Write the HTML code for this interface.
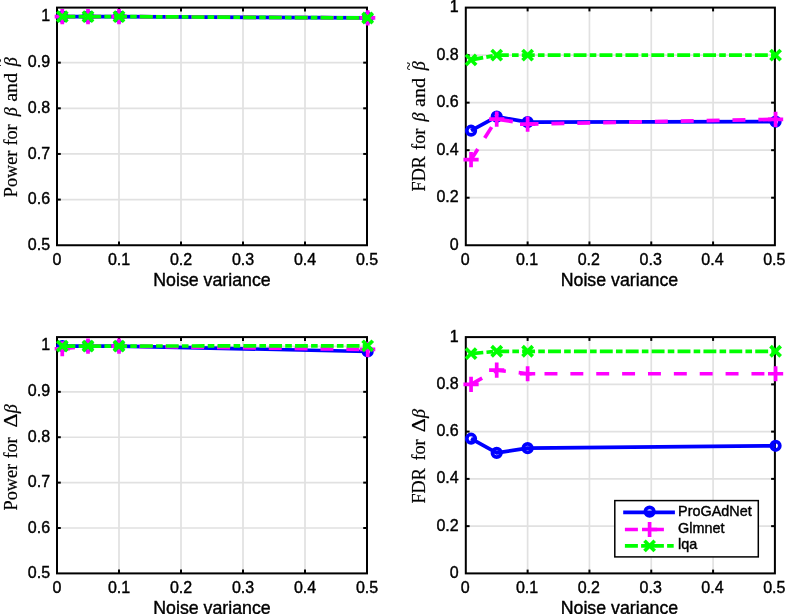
<!DOCTYPE html>
<html lang="en"><head><meta charset="utf-8"><title>Power and FDR vs noise variance</title>
<style>html,body{margin:0;padding:0;background:#fff}svg{display:block}.t{font-family:"Liberation Sans",Arial,Helvetica,sans-serif;fill:#000;stroke:#000;stroke-width:0.4px}.s{font-family:"Liberation Serif","Times New Roman",serif;fill:#000;stroke:#000;stroke-width:0.2px}</style></head><body>
<svg width="785" height="614" viewBox="0 0 785 614">
<rect width="785" height="614" fill="#fff"/>
<g id="ax0">
<line x1="119.00" y1="7.6" x2="119.00" y2="245.25" stroke="#e1e1e1" stroke-width="1.7"/>
<line x1="181.00" y1="7.6" x2="181.00" y2="245.25" stroke="#e1e1e1" stroke-width="1.7"/>
<line x1="243.00" y1="7.6" x2="243.00" y2="245.25" stroke="#e1e1e1" stroke-width="1.7"/>
<line x1="305.00" y1="7.6" x2="305.00" y2="245.25" stroke="#e1e1e1" stroke-width="1.7"/>
<line x1="57.0" y1="199.60" x2="367.0" y2="199.60" stroke="#e1e1e1" stroke-width="1.7"/>
<line x1="57.0" y1="153.95" x2="367.0" y2="153.95" stroke="#e1e1e1" stroke-width="1.7"/>
<line x1="57.0" y1="108.30" x2="367.0" y2="108.30" stroke="#e1e1e1" stroke-width="1.7"/>
<line x1="57.0" y1="62.65" x2="367.0" y2="62.65" stroke="#e1e1e1" stroke-width="1.7"/>
<line x1="57.0" y1="17.00" x2="367.0" y2="17.00" stroke="#e1e1e1" stroke-width="1.7"/>
<line x1="119.00" y1="245.25" x2="119.00" y2="241.45" stroke="#000" stroke-width="2"/>
<line x1="119.00" y1="7.6" x2="119.00" y2="11.399999999999999" stroke="#000" stroke-width="2"/>
<line x1="181.00" y1="245.25" x2="181.00" y2="241.45" stroke="#000" stroke-width="2"/>
<line x1="181.00" y1="7.6" x2="181.00" y2="11.399999999999999" stroke="#000" stroke-width="2"/>
<line x1="243.00" y1="245.25" x2="243.00" y2="241.45" stroke="#000" stroke-width="2"/>
<line x1="243.00" y1="7.6" x2="243.00" y2="11.399999999999999" stroke="#000" stroke-width="2"/>
<line x1="305.00" y1="245.25" x2="305.00" y2="241.45" stroke="#000" stroke-width="2"/>
<line x1="305.00" y1="7.6" x2="305.00" y2="11.399999999999999" stroke="#000" stroke-width="2"/>
<line x1="57.0" y1="199.60" x2="60.8" y2="199.60" stroke="#000" stroke-width="2"/>
<line x1="367.0" y1="199.60" x2="363.2" y2="199.60" stroke="#000" stroke-width="2"/>
<line x1="57.0" y1="153.95" x2="60.8" y2="153.95" stroke="#000" stroke-width="2"/>
<line x1="367.0" y1="153.95" x2="363.2" y2="153.95" stroke="#000" stroke-width="2"/>
<line x1="57.0" y1="108.30" x2="60.8" y2="108.30" stroke="#000" stroke-width="2"/>
<line x1="367.0" y1="108.30" x2="363.2" y2="108.30" stroke="#000" stroke-width="2"/>
<line x1="57.0" y1="62.65" x2="60.8" y2="62.65" stroke="#000" stroke-width="2"/>
<line x1="367.0" y1="62.65" x2="363.2" y2="62.65" stroke="#000" stroke-width="2"/>
<line x1="57.0" y1="17.00" x2="60.8" y2="17.00" stroke="#000" stroke-width="2"/>
<line x1="367.0" y1="17.00" x2="363.2" y2="17.00" stroke="#000" stroke-width="2"/>
<rect x="57.0" y="7.6" width="310.0" height="237.65" fill="none" stroke="#000" stroke-width="2"/>
<polyline points="62.27,16.60 88.00,16.60 119.00,16.60 367.68,17.97" fill="none" stroke="#0000ff" stroke-width="3.7" stroke-linejoin="round"/>
<circle cx="62.27" cy="16.60" r="4.25" fill="none" stroke="#0000ff" stroke-width="3.7"/>
<circle cx="88.00" cy="16.60" r="4.25" fill="none" stroke="#0000ff" stroke-width="3.7"/>
<circle cx="119.00" cy="16.60" r="4.25" fill="none" stroke="#0000ff" stroke-width="3.7"/>
<circle cx="367.68" cy="17.97" r="4.25" fill="none" stroke="#0000ff" stroke-width="3.7"/>
<polyline points="62.27,16.60 88.00,16.60 119.00,16.60 367.68,17.97" fill="none" stroke="#ff00ff" stroke-width="3.7" stroke-dasharray="12.95 12.92" stroke-dashoffset="0.3" stroke-linejoin="round"/>
<path d="M54.67 16.60H69.87M62.27 9.00V24.20" fill="none" stroke="#ff00ff" stroke-width="3.7"/>
<path d="M80.40 16.60H95.60M88.00 9.00V24.20" fill="none" stroke="#ff00ff" stroke-width="3.7"/>
<path d="M111.40 16.60H126.60M119.00 9.00V24.20" fill="none" stroke="#ff00ff" stroke-width="3.7"/>
<path d="M360.08 17.97H375.28M367.68 10.37V25.57" fill="none" stroke="#ff00ff" stroke-width="3.7"/>
<polyline points="62.27,16.60 88.00,16.60 119.00,16.60 367.68,17.97" fill="none" stroke="#00ff00" stroke-width="3.7" stroke-dasharray="12.80 3.2 6.6 3.2" stroke-dashoffset="-0.3" stroke-linejoin="round"/>
<path d="M57.17 11.50L67.37 21.70M57.17 21.70L67.37 11.50" fill="none" stroke="#00ff00" stroke-width="3.7"/>
<path d="M82.90 11.50L93.10 21.70M82.90 21.70L93.10 11.50" fill="none" stroke="#00ff00" stroke-width="3.7"/>
<path d="M113.90 11.50L124.10 21.70M113.90 21.70L124.10 11.50" fill="none" stroke="#00ff00" stroke-width="3.7"/>
<path d="M362.58 12.87L372.78 23.07M362.58 23.07L372.78 12.87" fill="none" stroke="#00ff00" stroke-width="3.7"/>
<text class="t" x="57.00" y="265.15" font-size="16.0" text-anchor="middle">0</text>
<text class="t" x="119.00" y="265.15" font-size="16.0" text-anchor="middle">0.1</text>
<text class="t" x="181.00" y="265.15" font-size="16.0" text-anchor="middle">0.2</text>
<text class="t" x="243.00" y="265.15" font-size="16.0" text-anchor="middle">0.3</text>
<text class="t" x="305.00" y="265.15" font-size="16.0" text-anchor="middle">0.4</text>
<text class="t" x="367.00" y="265.15" font-size="16.0" text-anchor="middle">0.5</text>
<text class="t" x="50.10" y="249.85" font-size="16.0" text-anchor="end">0.5</text>
<text class="t" x="50.10" y="204.20" font-size="16.0" text-anchor="end">0.6</text>
<text class="t" x="50.10" y="158.55" font-size="16.0" text-anchor="end">0.7</text>
<text class="t" x="50.10" y="112.90" font-size="16.0" text-anchor="end">0.8</text>
<text class="t" x="50.10" y="67.25" font-size="16.0" text-anchor="end">0.9</text>
<text class="t" x="50.10" y="20.90" font-size="16.0" text-anchor="end">1</text>
<text class="t" x="212.00" y="285.65" font-size="17.75" text-anchor="middle">Noise variance</text>
<text class="s" id="yl0_0" transform="translate(16.70 197.20) rotate(-90) scale(1 1)" font-size="18.2">Power</text>
<text class="s" id="yl0_1" transform="translate(16.70 145.60) rotate(-90) scale(1 1)" font-size="18.2">for</text>
<text class="s" id="yl0_2" transform="translate(16.70 116.30) rotate(-90) scale(1 1)" font-size="18.2" font-style="italic">β</text>
<text class="s" id="yl0_3" transform="translate(16.70 101.80) rotate(-90) scale(1.1 1)" font-size="18.2">and</text>
<text class="s" id="yl0_4" transform="translate(16.70 66.20) rotate(-90) scale(1 1)" font-size="18.2" font-style="italic">β</text>
<text class="s" id="yl0_5" transform="translate(5.10 66.30) rotate(-90)" font-size="15">~</text>
</g>
<g id="ax1">
<line x1="527.62" y1="7.6" x2="527.62" y2="245.25" stroke="#e1e1e1" stroke-width="1.7"/>
<line x1="589.44" y1="7.6" x2="589.44" y2="245.25" stroke="#e1e1e1" stroke-width="1.7"/>
<line x1="651.26" y1="7.6" x2="651.26" y2="245.25" stroke="#e1e1e1" stroke-width="1.7"/>
<line x1="713.08" y1="7.6" x2="713.08" y2="245.25" stroke="#e1e1e1" stroke-width="1.7"/>
<line x1="465.8" y1="197.72" x2="774.9" y2="197.72" stroke="#e1e1e1" stroke-width="1.7"/>
<line x1="465.8" y1="150.19" x2="774.9" y2="150.19" stroke="#e1e1e1" stroke-width="1.7"/>
<line x1="465.8" y1="102.66" x2="774.9" y2="102.66" stroke="#e1e1e1" stroke-width="1.7"/>
<line x1="465.8" y1="55.13" x2="774.9" y2="55.13" stroke="#e1e1e1" stroke-width="1.7"/>
<line x1="527.62" y1="245.25" x2="527.62" y2="241.45" stroke="#000" stroke-width="2"/>
<line x1="527.62" y1="7.6" x2="527.62" y2="11.399999999999999" stroke="#000" stroke-width="2"/>
<line x1="589.44" y1="245.25" x2="589.44" y2="241.45" stroke="#000" stroke-width="2"/>
<line x1="589.44" y1="7.6" x2="589.44" y2="11.399999999999999" stroke="#000" stroke-width="2"/>
<line x1="651.26" y1="245.25" x2="651.26" y2="241.45" stroke="#000" stroke-width="2"/>
<line x1="651.26" y1="7.6" x2="651.26" y2="11.399999999999999" stroke="#000" stroke-width="2"/>
<line x1="713.08" y1="245.25" x2="713.08" y2="241.45" stroke="#000" stroke-width="2"/>
<line x1="713.08" y1="7.6" x2="713.08" y2="11.399999999999999" stroke="#000" stroke-width="2"/>
<line x1="465.8" y1="197.72" x2="469.6" y2="197.72" stroke="#000" stroke-width="2"/>
<line x1="774.9" y1="197.72" x2="771.1" y2="197.72" stroke="#000" stroke-width="2"/>
<line x1="465.8" y1="150.19" x2="469.6" y2="150.19" stroke="#000" stroke-width="2"/>
<line x1="774.9" y1="150.19" x2="771.1" y2="150.19" stroke="#000" stroke-width="2"/>
<line x1="465.8" y1="102.66" x2="469.6" y2="102.66" stroke="#000" stroke-width="2"/>
<line x1="774.9" y1="102.66" x2="771.1" y2="102.66" stroke="#000" stroke-width="2"/>
<line x1="465.8" y1="55.13" x2="469.6" y2="55.13" stroke="#000" stroke-width="2"/>
<line x1="774.9" y1="55.13" x2="771.1" y2="55.13" stroke="#000" stroke-width="2"/>
<rect x="465.8" y="7.6" width="309.09999999999997" height="237.65" fill="none" stroke="#000" stroke-width="2"/>
<polyline points="471.05,130.70 496.71,116.68 527.62,122.15 775.58,121.67" fill="none" stroke="#0000ff" stroke-width="3.7" stroke-linejoin="round"/>
<circle cx="471.05" cy="130.70" r="4.25" fill="none" stroke="#0000ff" stroke-width="3.7"/>
<circle cx="496.71" cy="116.68" r="4.25" fill="none" stroke="#0000ff" stroke-width="3.7"/>
<circle cx="527.62" cy="122.15" r="4.25" fill="none" stroke="#0000ff" stroke-width="3.7"/>
<circle cx="775.58" cy="121.67" r="4.25" fill="none" stroke="#0000ff" stroke-width="3.7"/>
<polyline points="471.05,159.70 496.71,119.06 527.62,124.05 775.58,119.30" fill="none" stroke="#ff00ff" stroke-width="3.7" stroke-dasharray="12.95 12.92" stroke-dashoffset="0.3" stroke-linejoin="round"/>
<path d="M463.45 159.70H478.65M471.05 152.10V167.30" fill="none" stroke="#ff00ff" stroke-width="3.7"/>
<path d="M489.11 119.06H504.31M496.71 111.46V126.66" fill="none" stroke="#ff00ff" stroke-width="3.7"/>
<path d="M520.02 124.05H535.22M527.62 116.45V131.65" fill="none" stroke="#ff00ff" stroke-width="3.7"/>
<path d="M767.98 119.30H783.18M775.58 111.70V126.90" fill="none" stroke="#ff00ff" stroke-width="3.7"/>
<polyline points="471.05,59.88 496.71,55.13 527.62,55.13 775.58,55.13" fill="none" stroke="#00ff00" stroke-width="3.7" stroke-dasharray="12.90 3.2 6.6 3.2" stroke-dashoffset="0.6" stroke-linejoin="round"/>
<path d="M465.95 54.78L476.15 64.98M465.95 64.98L476.15 54.78" fill="none" stroke="#00ff00" stroke-width="3.7"/>
<path d="M491.61 50.03L501.81 60.23M491.61 60.23L501.81 50.03" fill="none" stroke="#00ff00" stroke-width="3.7"/>
<path d="M522.52 50.03L532.72 60.23M522.52 60.23L532.72 50.03" fill="none" stroke="#00ff00" stroke-width="3.7"/>
<path d="M770.48 50.03L780.68 60.23M770.48 60.23L780.68 50.03" fill="none" stroke="#00ff00" stroke-width="3.7"/>
<text class="t" x="465.20" y="265.15" font-size="16.0" text-anchor="middle">0</text>
<text class="t" x="527.02" y="265.15" font-size="16.0" text-anchor="middle">0.1</text>
<text class="t" x="588.84" y="265.15" font-size="16.0" text-anchor="middle">0.2</text>
<text class="t" x="650.66" y="265.15" font-size="16.0" text-anchor="middle">0.3</text>
<text class="t" x="712.48" y="265.15" font-size="16.0" text-anchor="middle">0.4</text>
<text class="t" x="774.30" y="265.15" font-size="16.0" text-anchor="middle">0.5</text>
<text class="t" x="458.70" y="249.85" font-size="16.0" text-anchor="end">0</text>
<text class="t" x="458.70" y="202.32" font-size="16.0" text-anchor="end">0.2</text>
<text class="t" x="458.70" y="154.79" font-size="16.0" text-anchor="end">0.4</text>
<text class="t" x="458.70" y="107.26" font-size="16.0" text-anchor="end">0.6</text>
<text class="t" x="458.70" y="59.73" font-size="16.0" text-anchor="end">0.8</text>
<text class="t" x="458.70" y="12.20" font-size="16.0" text-anchor="end">1</text>
<text class="t" x="619.45" y="285.65" font-size="17.75" text-anchor="middle">Noise variance</text>
<text class="s" id="yl1_0" transform="translate(425.10 191.40) rotate(-90) scale(1 1)" font-size="18.2">FDR</text>
<text class="s" id="yl1_1" transform="translate(425.10 149.90) rotate(-90) scale(1 1)" font-size="18.2">for</text>
<text class="s" id="yl1_2" transform="translate(425.10 121.40) rotate(-90) scale(1 1)" font-size="18.2" font-style="italic">β</text>
<text class="s" id="yl1_3" transform="translate(425.10 107.00) rotate(-90) scale(1.1 1)" font-size="18.2">and</text>
<text class="s" id="yl1_4" transform="translate(425.10 70.20) rotate(-90) scale(1 1)" font-size="18.2" font-style="italic">β</text>
<text class="s" id="yl1_5" transform="translate(413.50 70.30) rotate(-90)" font-size="15">~</text>
</g>
<g id="ax2">
<line x1="119.00" y1="337.1" x2="119.00" y2="573.4" stroke="#e1e1e1" stroke-width="1.7"/>
<line x1="181.00" y1="337.1" x2="181.00" y2="573.4" stroke="#e1e1e1" stroke-width="1.7"/>
<line x1="243.00" y1="337.1" x2="243.00" y2="573.4" stroke="#e1e1e1" stroke-width="1.7"/>
<line x1="305.00" y1="337.1" x2="305.00" y2="573.4" stroke="#e1e1e1" stroke-width="1.7"/>
<line x1="57.0" y1="528.01" x2="367.0" y2="528.01" stroke="#e1e1e1" stroke-width="1.7"/>
<line x1="57.0" y1="482.62" x2="367.0" y2="482.62" stroke="#e1e1e1" stroke-width="1.7"/>
<line x1="57.0" y1="437.23" x2="367.0" y2="437.23" stroke="#e1e1e1" stroke-width="1.7"/>
<line x1="57.0" y1="391.84" x2="367.0" y2="391.84" stroke="#e1e1e1" stroke-width="1.7"/>
<line x1="57.0" y1="346.45" x2="367.0" y2="346.45" stroke="#e1e1e1" stroke-width="1.7"/>
<line x1="119.00" y1="573.4" x2="119.00" y2="569.6" stroke="#000" stroke-width="2"/>
<line x1="119.00" y1="337.1" x2="119.00" y2="340.90000000000003" stroke="#000" stroke-width="2"/>
<line x1="181.00" y1="573.4" x2="181.00" y2="569.6" stroke="#000" stroke-width="2"/>
<line x1="181.00" y1="337.1" x2="181.00" y2="340.90000000000003" stroke="#000" stroke-width="2"/>
<line x1="243.00" y1="573.4" x2="243.00" y2="569.6" stroke="#000" stroke-width="2"/>
<line x1="243.00" y1="337.1" x2="243.00" y2="340.90000000000003" stroke="#000" stroke-width="2"/>
<line x1="305.00" y1="573.4" x2="305.00" y2="569.6" stroke="#000" stroke-width="2"/>
<line x1="305.00" y1="337.1" x2="305.00" y2="340.90000000000003" stroke="#000" stroke-width="2"/>
<line x1="57.0" y1="528.01" x2="60.8" y2="528.01" stroke="#000" stroke-width="2"/>
<line x1="367.0" y1="528.01" x2="363.2" y2="528.01" stroke="#000" stroke-width="2"/>
<line x1="57.0" y1="482.62" x2="60.8" y2="482.62" stroke="#000" stroke-width="2"/>
<line x1="367.0" y1="482.62" x2="363.2" y2="482.62" stroke="#000" stroke-width="2"/>
<line x1="57.0" y1="437.23" x2="60.8" y2="437.23" stroke="#000" stroke-width="2"/>
<line x1="367.0" y1="437.23" x2="363.2" y2="437.23" stroke="#000" stroke-width="2"/>
<line x1="57.0" y1="391.84" x2="60.8" y2="391.84" stroke="#000" stroke-width="2"/>
<line x1="367.0" y1="391.84" x2="363.2" y2="391.84" stroke="#000" stroke-width="2"/>
<line x1="57.0" y1="346.45" x2="60.8" y2="346.45" stroke="#000" stroke-width="2"/>
<line x1="367.0" y1="346.45" x2="363.2" y2="346.45" stroke="#000" stroke-width="2"/>
<rect x="57.0" y="337.1" width="310.0" height="236.29999999999995" fill="none" stroke="#000" stroke-width="2"/>
<polyline points="62.27,346.05 88.00,346.05 119.00,346.05 367.68,351.50" fill="none" stroke="#0000ff" stroke-width="3.7" stroke-linejoin="round"/>
<circle cx="62.27" cy="346.05" r="4.25" fill="none" stroke="#0000ff" stroke-width="3.7"/>
<circle cx="88.00" cy="346.05" r="4.25" fill="none" stroke="#0000ff" stroke-width="3.7"/>
<circle cx="119.00" cy="346.05" r="4.25" fill="none" stroke="#0000ff" stroke-width="3.7"/>
<circle cx="367.68" cy="351.50" r="4.25" fill="none" stroke="#0000ff" stroke-width="3.7"/>
<polyline points="62.27,348.77 88.00,346.05 119.00,346.05 367.68,349.45" fill="none" stroke="#ff00ff" stroke-width="3.7" stroke-dasharray="12.95 12.92" stroke-dashoffset="0.3" stroke-linejoin="round"/>
<path d="M54.67 348.77H69.87M62.27 341.17V356.37" fill="none" stroke="#ff00ff" stroke-width="3.7"/>
<path d="M80.40 346.05H95.60M88.00 338.45V353.65" fill="none" stroke="#ff00ff" stroke-width="3.7"/>
<path d="M111.40 346.05H126.60M119.00 338.45V353.65" fill="none" stroke="#ff00ff" stroke-width="3.7"/>
<path d="M360.08 349.45H375.28M367.68 341.85V357.05" fill="none" stroke="#ff00ff" stroke-width="3.7"/>
<polyline points="62.27,346.05 88.00,346.05 119.00,346.05 367.68,345.82" fill="none" stroke="#00ff00" stroke-width="3.7" stroke-dasharray="12.83 3.2 6.6 3.2" stroke-dashoffset="-0.3" stroke-linejoin="round"/>
<path d="M57.17 340.95L67.37 351.15M57.17 351.15L67.37 340.95" fill="none" stroke="#00ff00" stroke-width="3.7"/>
<path d="M82.90 340.95L93.10 351.15M82.90 351.15L93.10 340.95" fill="none" stroke="#00ff00" stroke-width="3.7"/>
<path d="M113.90 340.95L124.10 351.15M113.90 351.15L124.10 340.95" fill="none" stroke="#00ff00" stroke-width="3.7"/>
<path d="M362.58 340.72L372.78 350.92M362.58 350.92L372.78 340.72" fill="none" stroke="#00ff00" stroke-width="3.7"/>
<text class="t" x="57.00" y="593.30" font-size="16.0" text-anchor="middle">0</text>
<text class="t" x="119.00" y="593.30" font-size="16.0" text-anchor="middle">0.1</text>
<text class="t" x="181.00" y="593.30" font-size="16.0" text-anchor="middle">0.2</text>
<text class="t" x="243.00" y="593.30" font-size="16.0" text-anchor="middle">0.3</text>
<text class="t" x="305.00" y="593.30" font-size="16.0" text-anchor="middle">0.4</text>
<text class="t" x="367.00" y="593.30" font-size="16.0" text-anchor="middle">0.5</text>
<text class="t" x="50.10" y="578.00" font-size="16.0" text-anchor="end">0.5</text>
<text class="t" x="50.10" y="532.61" font-size="16.0" text-anchor="end">0.6</text>
<text class="t" x="50.10" y="487.22" font-size="16.0" text-anchor="end">0.7</text>
<text class="t" x="50.10" y="441.83" font-size="16.0" text-anchor="end">0.8</text>
<text class="t" x="50.10" y="396.44" font-size="16.0" text-anchor="end">0.9</text>
<text class="t" x="50.10" y="350.35" font-size="16.0" text-anchor="end">1</text>
<text class="t" x="212.00" y="613.80" font-size="17.75" text-anchor="middle">Noise variance</text>
<text class="s" id="yl2_0" transform="translate(16.70 510.40) rotate(-90) scale(1 1)" font-size="18.2">Power</text>
<text class="s" id="yl2_1" transform="translate(16.70 458.60) rotate(-90) scale(1 1)" font-size="18.2">for</text>
<text class="s" id="yl2_2" transform="translate(16.70 427.60) rotate(-90) scale(1.2 1)" font-size="18.2">Δ</text>
<text class="s" id="yl2_3" transform="translate(16.70 413.20) rotate(-90) scale(1 1)" font-size="18.2" font-style="italic">β</text>
</g>
<g id="ax3">
<line x1="527.62" y1="337.1" x2="527.62" y2="573.4" stroke="#e1e1e1" stroke-width="1.7"/>
<line x1="589.44" y1="337.1" x2="589.44" y2="573.4" stroke="#e1e1e1" stroke-width="1.7"/>
<line x1="651.26" y1="337.1" x2="651.26" y2="573.4" stroke="#e1e1e1" stroke-width="1.7"/>
<line x1="713.08" y1="337.1" x2="713.08" y2="573.4" stroke="#e1e1e1" stroke-width="1.7"/>
<line x1="465.8" y1="526.14" x2="774.9" y2="526.14" stroke="#e1e1e1" stroke-width="1.7"/>
<line x1="465.8" y1="478.88" x2="774.9" y2="478.88" stroke="#e1e1e1" stroke-width="1.7"/>
<line x1="465.8" y1="431.62" x2="774.9" y2="431.62" stroke="#e1e1e1" stroke-width="1.7"/>
<line x1="465.8" y1="384.36" x2="774.9" y2="384.36" stroke="#e1e1e1" stroke-width="1.7"/>
<line x1="527.62" y1="573.4" x2="527.62" y2="569.6" stroke="#000" stroke-width="2"/>
<line x1="527.62" y1="337.1" x2="527.62" y2="340.90000000000003" stroke="#000" stroke-width="2"/>
<line x1="589.44" y1="573.4" x2="589.44" y2="569.6" stroke="#000" stroke-width="2"/>
<line x1="589.44" y1="337.1" x2="589.44" y2="340.90000000000003" stroke="#000" stroke-width="2"/>
<line x1="651.26" y1="573.4" x2="651.26" y2="569.6" stroke="#000" stroke-width="2"/>
<line x1="651.26" y1="337.1" x2="651.26" y2="340.90000000000003" stroke="#000" stroke-width="2"/>
<line x1="713.08" y1="573.4" x2="713.08" y2="569.6" stroke="#000" stroke-width="2"/>
<line x1="713.08" y1="337.1" x2="713.08" y2="340.90000000000003" stroke="#000" stroke-width="2"/>
<line x1="465.8" y1="526.14" x2="469.6" y2="526.14" stroke="#000" stroke-width="2"/>
<line x1="774.9" y1="526.14" x2="771.1" y2="526.14" stroke="#000" stroke-width="2"/>
<line x1="465.8" y1="478.88" x2="469.6" y2="478.88" stroke="#000" stroke-width="2"/>
<line x1="774.9" y1="478.88" x2="771.1" y2="478.88" stroke="#000" stroke-width="2"/>
<line x1="465.8" y1="431.62" x2="469.6" y2="431.62" stroke="#000" stroke-width="2"/>
<line x1="774.9" y1="431.62" x2="771.1" y2="431.62" stroke="#000" stroke-width="2"/>
<line x1="465.8" y1="384.36" x2="469.6" y2="384.36" stroke="#000" stroke-width="2"/>
<line x1="774.9" y1="384.36" x2="771.1" y2="384.36" stroke="#000" stroke-width="2"/>
<rect x="465.8" y="337.1" width="309.09999999999997" height="236.29999999999995" fill="none" stroke="#000" stroke-width="2"/>
<polyline points="471.05,438.71 496.71,452.89 527.62,448.16 775.58,445.80" fill="none" stroke="#0000ff" stroke-width="3.7" stroke-linejoin="round"/>
<circle cx="471.05" cy="438.71" r="4.25" fill="none" stroke="#0000ff" stroke-width="3.7"/>
<circle cx="496.71" cy="452.89" r="4.25" fill="none" stroke="#0000ff" stroke-width="3.7"/>
<circle cx="527.62" cy="448.16" r="4.25" fill="none" stroke="#0000ff" stroke-width="3.7"/>
<circle cx="775.58" cy="445.80" r="4.25" fill="none" stroke="#0000ff" stroke-width="3.7"/>
<polyline points="471.05,384.36 496.71,370.18 527.62,373.73 775.58,373.73" fill="none" stroke="#ff00ff" stroke-width="3.7" stroke-dasharray="12.95 12.92" stroke-dashoffset="0.3" stroke-linejoin="round"/>
<path d="M463.45 384.36H478.65M471.05 376.76V391.96" fill="none" stroke="#ff00ff" stroke-width="3.7"/>
<path d="M489.11 370.18H504.31M496.71 362.58V377.78" fill="none" stroke="#ff00ff" stroke-width="3.7"/>
<path d="M520.02 373.73H535.22M527.62 366.13V381.33" fill="none" stroke="#ff00ff" stroke-width="3.7"/>
<path d="M767.98 373.73H783.18M775.58 366.13V381.33" fill="none" stroke="#ff00ff" stroke-width="3.7"/>
<polyline points="471.05,353.64 496.71,351.28 527.62,351.28 775.58,351.28" fill="none" stroke="#00ff00" stroke-width="3.7" stroke-dasharray="12.90 3.2 6.6 3.2" stroke-dashoffset="0.6" stroke-linejoin="round"/>
<path d="M465.95 348.54L476.15 358.74M465.95 358.74L476.15 348.54" fill="none" stroke="#00ff00" stroke-width="3.7"/>
<path d="M491.61 346.18L501.81 356.38M491.61 356.38L501.81 346.18" fill="none" stroke="#00ff00" stroke-width="3.7"/>
<path d="M522.52 346.18L532.72 356.38M522.52 356.38L532.72 346.18" fill="none" stroke="#00ff00" stroke-width="3.7"/>
<path d="M770.48 346.18L780.68 356.38M770.48 356.38L780.68 346.18" fill="none" stroke="#00ff00" stroke-width="3.7"/>
<text class="t" x="465.20" y="593.30" font-size="16.0" text-anchor="middle">0</text>
<text class="t" x="527.02" y="593.30" font-size="16.0" text-anchor="middle">0.1</text>
<text class="t" x="588.84" y="593.30" font-size="16.0" text-anchor="middle">0.2</text>
<text class="t" x="650.66" y="593.30" font-size="16.0" text-anchor="middle">0.3</text>
<text class="t" x="712.48" y="593.30" font-size="16.0" text-anchor="middle">0.4</text>
<text class="t" x="774.30" y="593.30" font-size="16.0" text-anchor="middle">0.5</text>
<text class="t" x="458.70" y="578.00" font-size="16.0" text-anchor="end">0</text>
<text class="t" x="458.70" y="530.74" font-size="16.0" text-anchor="end">0.2</text>
<text class="t" x="458.70" y="483.48" font-size="16.0" text-anchor="end">0.4</text>
<text class="t" x="458.70" y="436.22" font-size="16.0" text-anchor="end">0.6</text>
<text class="t" x="458.70" y="388.96" font-size="16.0" text-anchor="end">0.8</text>
<text class="t" x="458.70" y="341.70" font-size="16.0" text-anchor="end">1</text>
<text class="t" x="619.45" y="613.80" font-size="17.75" text-anchor="middle">Noise variance</text>
<text class="s" id="yl3_0" transform="translate(425.10 503.60) rotate(-90) scale(1 1)" font-size="18.2">FDR</text>
<text class="s" id="yl3_1" transform="translate(425.10 460.60) rotate(-90) scale(1 1)" font-size="18.2">for</text>
<text class="s" id="yl3_2" transform="translate(425.10 432.30) rotate(-90) scale(1.2 1)" font-size="18.2">Δ</text>
<text class="s" id="yl3_3" transform="translate(425.10 418.10) rotate(-90) scale(1 1)" font-size="18.2" font-style="italic">β</text>
</g>
<g id="legend">
<rect x="614.8" y="500.6" width="143.5" height="56.3" fill="#fff" stroke="#000" stroke-width="1.5"/>
<line x1="623.2" y1="512.4" x2="674.9" y2="512.4" stroke="#0000ff" stroke-width="3.7"/>
<circle cx="649.6" cy="511.59999999999997" r="4.25" fill="none" stroke="#0000ff" stroke-width="3.7"/>
<line x1="624.9" y1="529.5" x2="674.9" y2="529.5" stroke="#ff00ff" stroke-width="3.7" stroke-dasharray="13 13"/>
<path d="M642.0 529.5H657.2M649.6 521.9V537.1" fill="none" stroke="#ff00ff" stroke-width="3.7"/>
<line x1="624.9" y1="545.9" x2="674.9" y2="545.9" stroke="#00ff00" stroke-width="3.7" stroke-dasharray="13 3.2 6.6 3.2"/>
<path d="M644.5 540.8L654.7 551.0M644.5 551.0L654.7 540.8" fill="none" stroke="#00ff00" stroke-width="3.7"/>
<text class="t" x="678.1" y="515.70" font-size="14.4">ProGAdNet</text>
<text class="t" x="678.1" y="532.80" font-size="14.4">Glmnet</text>
<text class="t" x="678.1" y="549.20" font-size="14.4">lqa</text>
</g>
</svg></body></html>
